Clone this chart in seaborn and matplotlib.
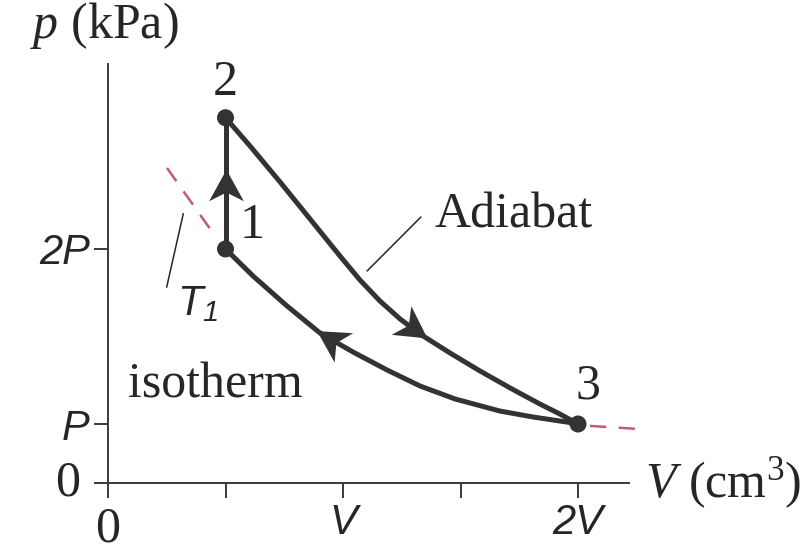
import matplotlib
matplotlib.use("Agg")
import matplotlib.pyplot as plt
import seaborn as sns
import numpy as np
import pandas as pd
from matplotlib.path import Path
from matplotlib.markers import MarkerStyle
from matplotlib.transforms import Affine2D

# states of the cycle, V in units of V, p in units of P
state_names = ["1", "2", "3"]
state_v = [0.5, 0.5, 2.0]
state_p = [2.0, 2.75, 1.0]

# adiabat 2 -> 3
adiabat_v = [0.5, 0.604, 0.732, 0.860, 0.987, 1.072, 1.157, 1.243, 1.328, 1.455,
             1.583, 1.711, 1.838, 1.923, 2.0]
adiabat_p = [2.75, 2.589, 2.383, 2.171, 1.96, 1.823, 1.703, 1.6, 1.514, 1.406,
             1.303, 1.206, 1.114, 1.057, 1.0]

# isotherm 3 -> 1 (listed from 1 towards 3)
isotherm_v = [0.5, 0.617, 0.762, 0.902, 1.043, 1.187, 1.328, 1.477, 1.668, 1.809, 1.953, 2.0]
isotherm_p = [2.0, 1.846, 1.674, 1.52, 1.411, 1.309, 1.217, 1.143, 1.074, 1.04, 1.011, 1.0]

# T1 isotherm continued outside the cycle (dashed)
t1_left_v = [0.251, 0.447]
t1_left_p = [2.463, 2.091]
t1_right_v = [2.051, 2.264]
t1_right_p = [0.989, 0.971]

x_ticks = [0, 0.5, 1.0, 1.5, 2.0]
x_ticklabels = ["", "", "V", "", "2V"]
p_floor = 0.663  # where the V axis crosses the p axis
y_ticks = [p_floor, 1.0, 2.0]
y_ticklabels = ["", "P", "2P"]

ink = "#262626"
line_c = "#333333"
dash_c = "#c25a7c"

sns.set_style("white")
plt.rcParams["font.family"] = ["Liberation Serif", "DejaVu Serif"]
plt.rcParams["mathtext.fontset"] = "custom"
plt.rcParams["mathtext.rm"] = "Liberation Serif"
plt.rcParams["mathtext.it"] = "Liberation Serif:italic"
plt.rcParams["mathtext.sf"] = "Liberation Sans:italic"

fig = plt.figure(figsize=(8, 5.53), dpi=100)
ax = fig.add_axes([0.135, 0.1266, 0.65125, 0.7577])
ax.set_xlim(0, 2.217)
ax.set_ylim(p_floor, 3.057)

serif = dict(family="Liberation Serif", fontsize=36, color=ink)
sans_it = dict(family="Liberation Sans", style="italic", fontsize=30, color=ink)

# dashed T1 isotherm pieces
for vv, pp in [(t1_left_v, t1_left_p), (t1_right_v, t1_right_p)]:
    ln = sns.lineplot(x=vv, y=pp, ax=ax, color=dash_c, lw=1.8, estimator=None, sort=False)
    ln.lines[-1].set_dashes((6.5, 5))
    ln.lines[-1].set_clip_on(False)

# processes
iso = pd.DataFrame({"V": isotherm_v, "p": isotherm_p})
adi = pd.DataFrame({"V": adiabat_v, "p": adiabat_p})
sns.lineplot(data=adi, x="V", y="p", ax=ax, color=line_c, lw=3.6, estimator=None, sort=False)
sns.lineplot(data=iso, x="V", y="p", ax=ax, color=line_c, lw=3.6, estimator=None, sort=False)
ax.plot([state_v[0], state_v[1]], [state_p[0], state_p[1]], color=line_c, lw=3.6,
        solid_capstyle="butt")

# state points
sns.scatterplot(x=state_v, y=state_p, ax=ax, color=line_c, s=150, edgecolor="none", zorder=5)

# notched arrow head pointing along +x, centred on the origin
head_path = Path([(0.5, 0), (-0.5, 0.55), (-0.22, 0), (-0.5, -0.55), (0.5, 0)],
                 [Path.MOVETO, Path.LINETO, Path.LINETO, Path.LINETO, Path.CLOSEPOLY])


def head(at, towards):
    a = ax.transData.transform(at)
    b = ax.transData.transform(towards)
    ang = np.degrees(np.arctan2(b[1] - a[1], b[0] - a[0]))
    m = MarkerStyle(head_path, transform=Affine2D().rotate_deg(ang))
    ax.plot([at[0]], [at[1]], marker=m, ms=25, color=line_c, mec="none", zorder=4)


# direction arrows along the cycle
p12 = np.array([state_p[0], state_p[1]])
head((state_v[0], p12[0] + 0.49 * (p12[1] - p12[0])),
     (state_v[0], p12[0] + 0.60 * (p12[1] - p12[0])))
head((1.30, np.interp(1.30, adiabat_v, adiabat_p)),
     (1.36, np.interp(1.36, adiabat_v, adiabat_p)))
head((0.945, np.interp(0.945, isotherm_v, isotherm_p)),
     (0.89, np.interp(0.89, isotherm_v, isotherm_p)))

# state labels
offsets = [(19, 17), (0, 25), (7, 27)]
for name, v, p, off in zip(state_names, state_v, state_p, offsets):
    ax.annotate(name, (v, p), xytext=off, textcoords="offset points",
                ha="center", va="center", **serif)

# curve names and leader lines
ax.text(0.085, 1.149, "isotherm", ha="left", va="baseline", **serif)
ax.text(1.391, 2.12, "Adiabat", ha="left", va="baseline", **serif)
ax.annotate("", xy=(1.094, 1.863), xytext=(1.340, 2.194),
            arrowprops=dict(arrowstyle="-", color=ink, lw=1.1))
ax.text(0.294, 1.623, r"$\mathsf{T_1}$", ha="left", va="baseline", fontsize=30, color=ink)
ax.annotate("", xy=(0.247, 1.766), xytext=(0.323, 2.217),
            arrowprops=dict(arrowstyle="-", color=ink, lw=1.1))

# axes
for side in ["top", "right"]:
    ax.spines[side].set_visible(False)
for side in ["left", "bottom"]:
    ax.spines[side].set_color("#3a3a3a")
    ax.spines[side].set_linewidth(1.4)
ax.set_xticks(x_ticks)
ax.set_xticklabels(x_ticklabels, **sans_it)
ax.set_yticks(y_ticks)
ax.set_yticklabels(y_ticklabels, **sans_it)
ax.tick_params(axis="x", bottom=True, direction="out", length=10.5, width=1.4,
               color="#3a3a3a", pad=4)
ax.tick_params(axis="y", left=True, direction="out", length=10, width=1.4,
               color="#3a3a3a", pad=3)
ax.set_xlim(0, 2.217)
ax.set_ylim(p_floor, 3.057)

ax.annotate("0", (0, p_floor), xytext=(0, -33), textcoords="offset points",
            ha="center", va="center", **serif)
ax.annotate("0", (0, p_floor), xytext=(-29, 0), textcoords="offset points",
            ha="center", va="center", **serif)

ax.set_ylabel(r"$p$ (kPa)", rotation=0, ha="left", va="baseline", **serif)
ax.yaxis.set_label_coords(-0.15, 1.062)
ax.set_xlabel(r"$V$ (cm$^3$)", ha="left", va="center", **serif)
ax.xaxis.set_label_coords(1.031, 0.0)

fig.savefig("out.png", dpi=100)
